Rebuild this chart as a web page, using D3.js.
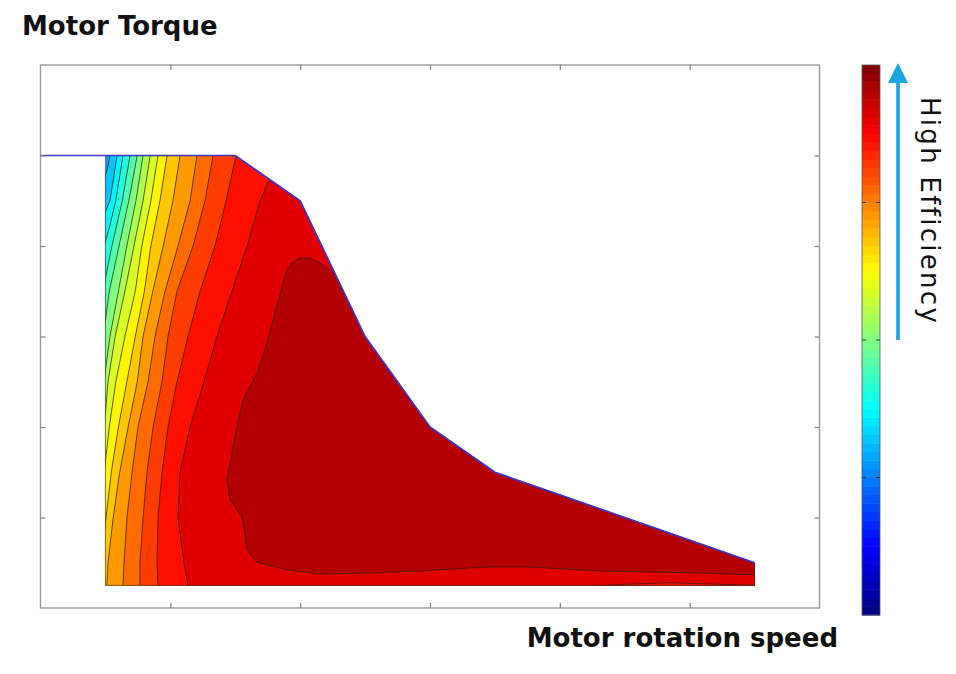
<!DOCTYPE html>
<html>
<head>
<meta charset="utf-8">
<title>Motor efficiency map</title>
<script src="https://cdn.jsdelivr.net/npm/d3@7"></script>
<style>
  html, body { margin: 0; padding: 0; background: #fff; }
  svg { display: block; }
  text { font-family: "DejaVu Sans", "Noto Sans", sans-serif; fill: #111; }
</style>
</head>
<body>
<div id="chart"></div>
<script>
// max torque curve, [speed, torque]
const torqueLimit = [[0, 5], [1.5, 5], [2, 4.5], [2.5, 3], [3, 2], [3.5, 1.5], [5.5, 0.5]];
const minSpeed = 0.5;
const maxSpeed = 5.5;
const minTorque = 0.25;

const xTicks = [1, 2, 3, 4, 5];
const yTicks = [1, 2, 3, 4, 5];
const colorbarTicks = [0.25, 0.5, 0.75];

// efficiency of each filled band, lowest (left edge) to highest (centre)
const bandEff = [0.275, 0.32, 0.365, 0.41, 0.455, 0.50, 0.545, 0.59,
                 0.635, 0.68, 0.725, 0.77, 0.815, 0.86, 0.905, 0.95];

const contourLines = [
  [[0.535, 5], [0.52, 4.88], [0.49, 4.73]],
  [[0.59, 5], [0.535, 4.5], [0.49, 4.34]],
  [[0.635, 5], [0.58, 4.5], [0.53, 4.2], [0.49, 4.0]],
  [[0.69, 5], [0.63, 4.5], [0.55, 4.0], [0.49, 3.57]],
  [[0.745, 5], [0.68, 4.5], [0.605, 4.0], [0.53, 3.5], [0.49, 3.07]],
  [[0.79, 5], [0.735, 4.5], [0.665, 4], [0.6, 3.5], [0.535, 3.0], [0.49, 2.52]],
  [[0.845, 5], [0.79, 4.5], [0.72, 4], [0.65, 3.5], [0.575, 3], [0.52, 2.5], [0.49, 1.97]],
  [[0.905, 5], [0.85, 4.5], [0.78, 4], [0.73, 3.5], [0.65, 3], [0.58, 2.5], [0.53, 2], [0.49, 1.49]],
  [[0.975, 5], [0.92, 4.5], [0.85, 4], [0.8, 3.5], [0.73, 3], [0.665, 2.5], [0.6, 2], [0.545, 1.5], [0.505, 1.0], [0.49, 0.83]],
  [[1.075, 5], [1.02, 4.5], [0.945, 4], [0.865, 3.5], [0.79, 3], [0.745, 2.5], [0.675, 2], [0.61, 1.5], [0.56, 1], [0.52, 0.5], [0.512, 0.25]],
  [[1.205, 5], [1.152, 4.5], [1.059, 4], [0.959, 3.5], [0.882, 3], [0.828, 2.5], [0.751, 2], [0.705, 1.5], [0.666, 1], [0.643, 0.5], [0.635, 0.25]],
  [[1.329, 5], [1.267, 4.5], [1.175, 4], [1.051, 3.5], [0.982, 3], [0.936, 2.5], [0.867, 2], [0.82, 1.5], [0.79, 1], [0.766, 0.5], [0.766, 0.25]],
  [[1.506, 5], [1.429, 4.5], [1.344, 4], [1.229, 3.5], [1.136, 3], [1.051, 2.5], [0.982, 2], [0.936, 1.5], [0.905, 1], [0.897, 0.5], [0.905, 0.25]],
  [[1.845, 4.785], [1.753, 4.707], [1.691, 4.5], [1.591, 4], [1.475, 3.5], [1.359, 3], [1.259, 2.5], [1.152, 2], [1.074, 1.5], [1.059, 1], [1.105, 0.5], [1.136, 0.25]]
];

// closed high-efficiency island (runs out past the torque limit on the right)
const peakContour = [
  [2.346, 3.624], [2.23, 3.735], [2.153, 3.812], [2.076, 3.867], [1.999, 3.867],
  [1.945, 3.823], [1.906, 3.757], [1.868, 3.591], [1.806, 3.26], [1.745, 2.928],
  [1.668, 2.597], [1.56, 2.298], [1.537, 2.155], [1.483, 1.779], [1.437, 1.414],
  [1.46, 1.193], [1.552, 1.006], [1.575, 0.829], [1.591, 0.641], [1.668, 0.508],
  [1.899, 0.42], [2.153, 0.376], [2.538, 0.387], [2.923, 0.409], [3.308, 0.442],
  [3.462, 0.453], [3.77, 0.453], [4.309, 0.409], [5.079, 0.387], [5.503, 0.365],
  [5.619, 0.365]
];

// thin low-torque contour along the bottom at high speed
const lowContour = [[4.25, 0.24], [4.5, 0.262], [4.83, 0.278], [5.1, 0.268], [5.49, 0.25], [5.6, 0.24]];

const W = 956, H = 674;
const x = d3.scaleLinear([0, 6], [40.5, 819.5]);
const y = d3.scaleLinear([0, 6], [608, 65]);

function jet(t) {
  const c = v => Math.max(0, Math.min(1, v));
  return d3.rgb(255 * c(1.5 - Math.abs(4 * t - 3)),
                255 * c(1.5 - Math.abs(4 * t - 2)),
                255 * c(1.5 - Math.abs(4 * t - 1))).formatHex();
}
const color = d3.scaleSequential(jet).domain([0, 1]);

const svg = d3.select("#chart").append("svg")
  .attr("width", W)
  .attr("height", H);

const line = d3.line().x(d => x(d[0])).y(d => y(d[1]));

// operating region: under the torque limit, between min/max speed
const region = torqueLimit.filter(d => d[0] >= minSpeed);
const envelope = [[minSpeed, 5], ...region, [maxSpeed, minTorque], [minSpeed, minTorque]];

svg.append("clipPath").attr("id", "env")
  .append("path")
  .attr("d", line(envelope) + "Z");

const map = svg.append("g").attr("clip-path", "url(#env)");

map.append("path")
  .attr("d", line(envelope) + "Z")
  .attr("fill", color(bandEff[0]));

// everything to the right of a contour line
function rightOf(pts) {
  const first = pts[0], last = pts[pts.length - 1];
  const tail = last[1] <= minTorque + 0.01
    ? [[last[0], -0.5]]
    : [[-0.5, last[1]], [-0.5, -0.5]];
  return [...pts, ...tail, [6.5, -0.5], [6.5, 6.5], [first[0], 6.5]];
}

map.selectAll("path.band")
  .data(contourLines)
  .join("path")
  .attr("class", "band")
  .attr("d", d => line(rightOf(d)) + "Z")
  .attr("fill", (d, i) => color(bandEff[i + 1]));

map.append("path")
  .attr("d", line([...lowContour, [5.6, -0.5], [4.25, -0.5]]) + "Z")
  .attr("fill", color(bandEff[13]));

map.append("path")
  .attr("d", line([...peakContour, [6.5, 0.365], [6.5, 6.5], [2.346, 6.5]]) + "Z")
  .attr("fill", color(bandEff[15]));

map.selectAll("path.iso")
  .data([...contourLines, peakContour, lowContour])
  .join("path")
  .attr("class", "iso")
  .attr("d", line)
  .attr("fill", "none")
  .attr("stroke", "#2a1a10")
  .attr("stroke-opacity", 0.8)
  .attr("stroke-width", 0.9);

svg.append("path")
  .attr("d", line(envelope) + "Z")
  .attr("fill", "none")
  .attr("stroke", "#3a2a20")
  .attr("stroke-opacity", 0.7)
  .attr("stroke-width", 0.9);

svg.append("path")
  .attr("d", line(torqueLimit))
  .attr("fill", "none")
  .attr("stroke", "#3c36c8")
  .attr("stroke-width", 1.7);

// frame and inward ticks
svg.append("rect")
  .attr("x", x(0)).attr("y", y(6))
  .attr("width", x(6) - x(0)).attr("height", y(0) - y(6))
  .attr("fill", "none")
  .attr("stroke", "#9a9a9a")
  .attr("stroke-width", 1.4);

const tick = 5;
const axes = [
  d3.axisBottom(x).tickValues(xTicks).tickSize(-tick), `translate(0,${y(0)})`,
  d3.axisTop(x).tickValues(xTicks).tickSize(-tick), `translate(0,${y(6)})`,
  d3.axisLeft(y).tickValues(yTicks).tickSize(-tick), `translate(${x(0)},0)`,
  d3.axisRight(y).tickValues(yTicks).tickSize(-tick), `translate(${x(6)},0)`
];
for (let i = 0; i < axes.length; i += 2) {
  const g = svg.append("g")
    .attr("transform", axes[i + 1])
    .call(axes[i].tickFormat(""));
  g.select(".domain").remove();
  g.selectAll(".tick line").attr("stroke", "#8a8a8a").attr("stroke-width", 1.3);
}

// colorbar
const cb = d3.scaleLinear([0, 1], [615, 65]);
const cbX = 862, cbW = 18, steps = 64;
svg.append("g")
  .selectAll("rect")
  .data(d3.range(steps))
  .join("rect")
  .attr("x", cbX)
  .attr("y", i => cb((i + 1) / steps))
  .attr("width", cbW)
  .attr("height", i => cb(i / steps) - cb((i + 1) / steps) + 0.5)
  .attr("fill", i => color((i + 0.5) / steps));

svg.append("rect")
  .attr("x", cbX).attr("y", cb(1))
  .attr("width", cbW).attr("height", cb(0) - cb(1))
  .attr("fill", "none")
  .attr("stroke", "#555")
  .attr("stroke-width", 0.8);

colorbarTicks.forEach(v => {
  [[cbX, cbX + 4], [cbX + cbW - 4, cbX + cbW]].forEach(([a, b]) => {
    svg.append("line")
      .attr("x1", a).attr("x2", b)
      .attr("y1", cb(v)).attr("y2", cb(v))
      .attr("stroke", "#333")
      .attr("stroke-width", 1);
  });
});

// arrow + label
svg.append("line")
  .attr("x1", 898).attr("x2", 898)
  .attr("y1", 340).attr("y2", 80)
  .attr("stroke", "#1aa6e2")
  .attr("stroke-width", 3.6);
svg.append("path")
  .attr("d", "M888,83 L898,63 L908,83 Z")
  .attr("fill", "#1aa6e2");

svg.append("text")
  .attr("transform", "translate(921,97) rotate(90)")
  .attr("font-size", 26)
  .attr("letter-spacing", 2.3)
  .text("High Efficiency");

svg.append("text")
  .attr("x", 22).attr("y", 35)
  .attr("font-size", 26)
  .attr("font-weight", 700)
  .text("Motor Torque");

svg.append("text")
  .attr("x", 838).attr("y", 647)
  .attr("text-anchor", "end")
  .attr("font-size", 26)
  .attr("font-weight", 700)
  .text("Motor rotation speed");
</script>
</body>
</html>
